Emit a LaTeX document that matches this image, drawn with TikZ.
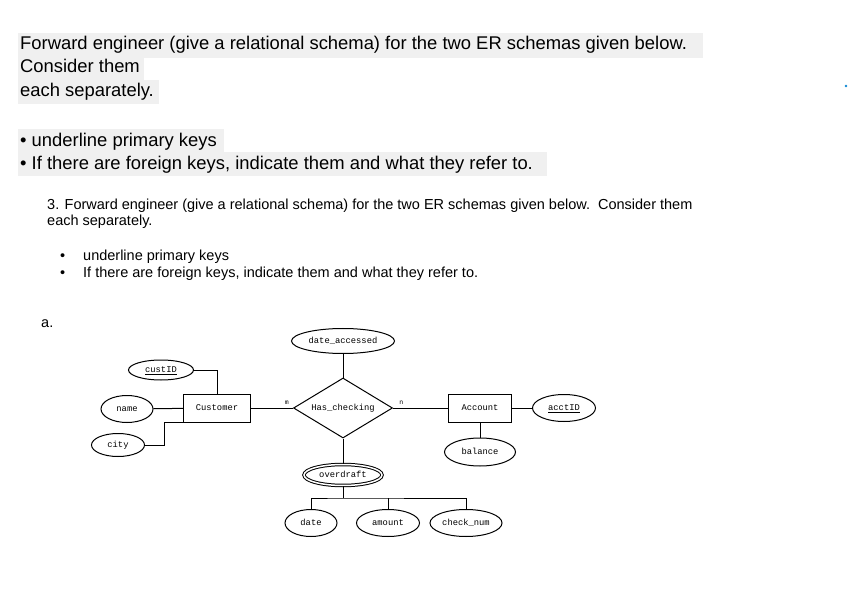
\documentclass[tikz,border=0pt]{standalone}
\usepackage{fontspec}
\setmainfont{Liberation Sans}
\newfontfamily\ermono{Liberation Mono}
\usetikzlibrary{shapes.geometric,calc}

\tikzset{
  hl/.style={fill=black!6, draw=none},
  attr/.style={draw, ellipse, line width=1pt, inner sep=0pt, text height=6.5pt, text depth=1.5pt, font=\ermono\fontsize{8.8}{9}\selectfont},
  ent/.style={draw, rectangle, line width=1pt, inner sep=0pt, text height=6.5pt, text depth=1.5pt, font=\ermono\fontsize{8.8}{9}\selectfont},
  rel/.style={draw, diamond, aspect=1.65, line width=1pt, inner sep=0pt, text height=6.5pt, text depth=1.5pt, font=\ermono\fontsize{8.8}{9}\selectfont},
  conn/.style={line width=1pt},
  big/.style={anchor=base west, inner sep=0pt, font=\fontsize{18.4}{20}\selectfont},
  small/.style={anchor=base west, inner sep=0pt, font=\fontsize{14.5}{15}\selectfont}
}

\begin{document}
\begin{tikzpicture}[x=1pt,y=-1pt]
\useasboundingbox (0,0) rectangle (848,593);

% heading
\fill[hl] (18,33) rectangle (703,58);
\fill[hl] (18,57) rectangle (144,81);
\fill[hl] (18,80) rectangle (159,104);
\fill[hl] (18,129) rectangle (224,153);
\fill[hl] (18,152) rectangle (547,176);
\node[big] (h1) at (20,50) {Forward engineer (give a relational schema) for the two ER schemas given below.};
\node[big] (h2) at (20,73) {Consider them};
\node[big] (h3) at (20,97) {each separately.};
\node[big] (h4) at (20,147) {\textbullet\ underline primary keys};
\node[big] (h5) at (20,170) {\textbullet\ If there are foreign keys, indicate them and what they refer to.};
\fill[cyan!70!blue] (846,86) circle (1.3);

% question text
\node[small] (q1) at (47,210) {3. Forward engineer (give a relational schema) for the two ER schemas given below.\ \ Consider them};
\node[small] (q2) at (47,226) {each separately.};
\node[small] (b1) at (60,261) {\textbullet};
\node[small] (q3) at (83,261) {underline primary keys};
\node[small] (b2) at (60,278) {\textbullet};
\node[small] (q4) at (83,278) {If there are foreign keys, indicate them and what they refer to.};
\node[small] (qa) at (41,327) {a.};

% ER diagram
\node[attr, minimum width=103, minimum height=25] (dacc) at (343,341) {date\_accessed};
\node[attr, minimum width=65, minimum height=20] (cid) at (161,370) {\underline{custID}};
\node[attr, minimum width=52, minimum height=27] (name) at (127,409) {name};
\node[attr, minimum width=53, minimum height=23] (city) at (118,445) {city};
\node[ent, minimum width=67, minimum height=28] (cust) at (217,408) {Customer};
\node[rel, minimum width=99, minimum height=60] (has) at (343,408) {Has\_checking};
\node[ent, minimum width=63, minimum height=28] (acct) at (480,408) {Account};
\node[attr, minimum width=63, minimum height=27] (aid) at (564,408) {\underline{acctID}};
\node[attr, minimum width=71, minimum height=28] (bal) at (480,452) {balance};
\node[attr, double, double distance=1.5pt, minimum width=78, minimum height=21] (od) at (343,475) {overdraft};
\node[attr, minimum width=52, minimum height=27] (date) at (311,523) {date};
\node[attr, minimum width=63, minimum height=27] (amt) at (388,523) {amount};
\node[attr, minimum width=72, minimum height=27] (chk) at (466,523) {check\_num};

\coordinate (bar) at (343,498);
\draw[conn] (dacc) -- (has.north);
\draw[conn] (cid.east) -| (cust.north);
\draw[conn] (name) -- (cust);
\draw[conn] (city.east) -- ++(19,0) |- (cust.south west);
\draw[conn] (cust) -- node[above, pos=0.85, font=\ermono\fontsize{6.5}{7}\selectfont] {m} (has);
\draw[conn] (has) -- node[above, pos=0.15, font=\ermono\fontsize{6.5}{7}\selectfont] {n} (acct);
\draw[conn] (acct) -- (aid);
\draw[conn] (acct) -- (bal);
\draw[conn] (has.south) -- (od.north);
\draw[conn] (od.south) -- (bar);
\draw[conn] (date.north) |- (bar) -| (chk.north);
\draw[conn] (amt.north) -- (amt.north |- bar);
\end{tikzpicture}
\end{document}
